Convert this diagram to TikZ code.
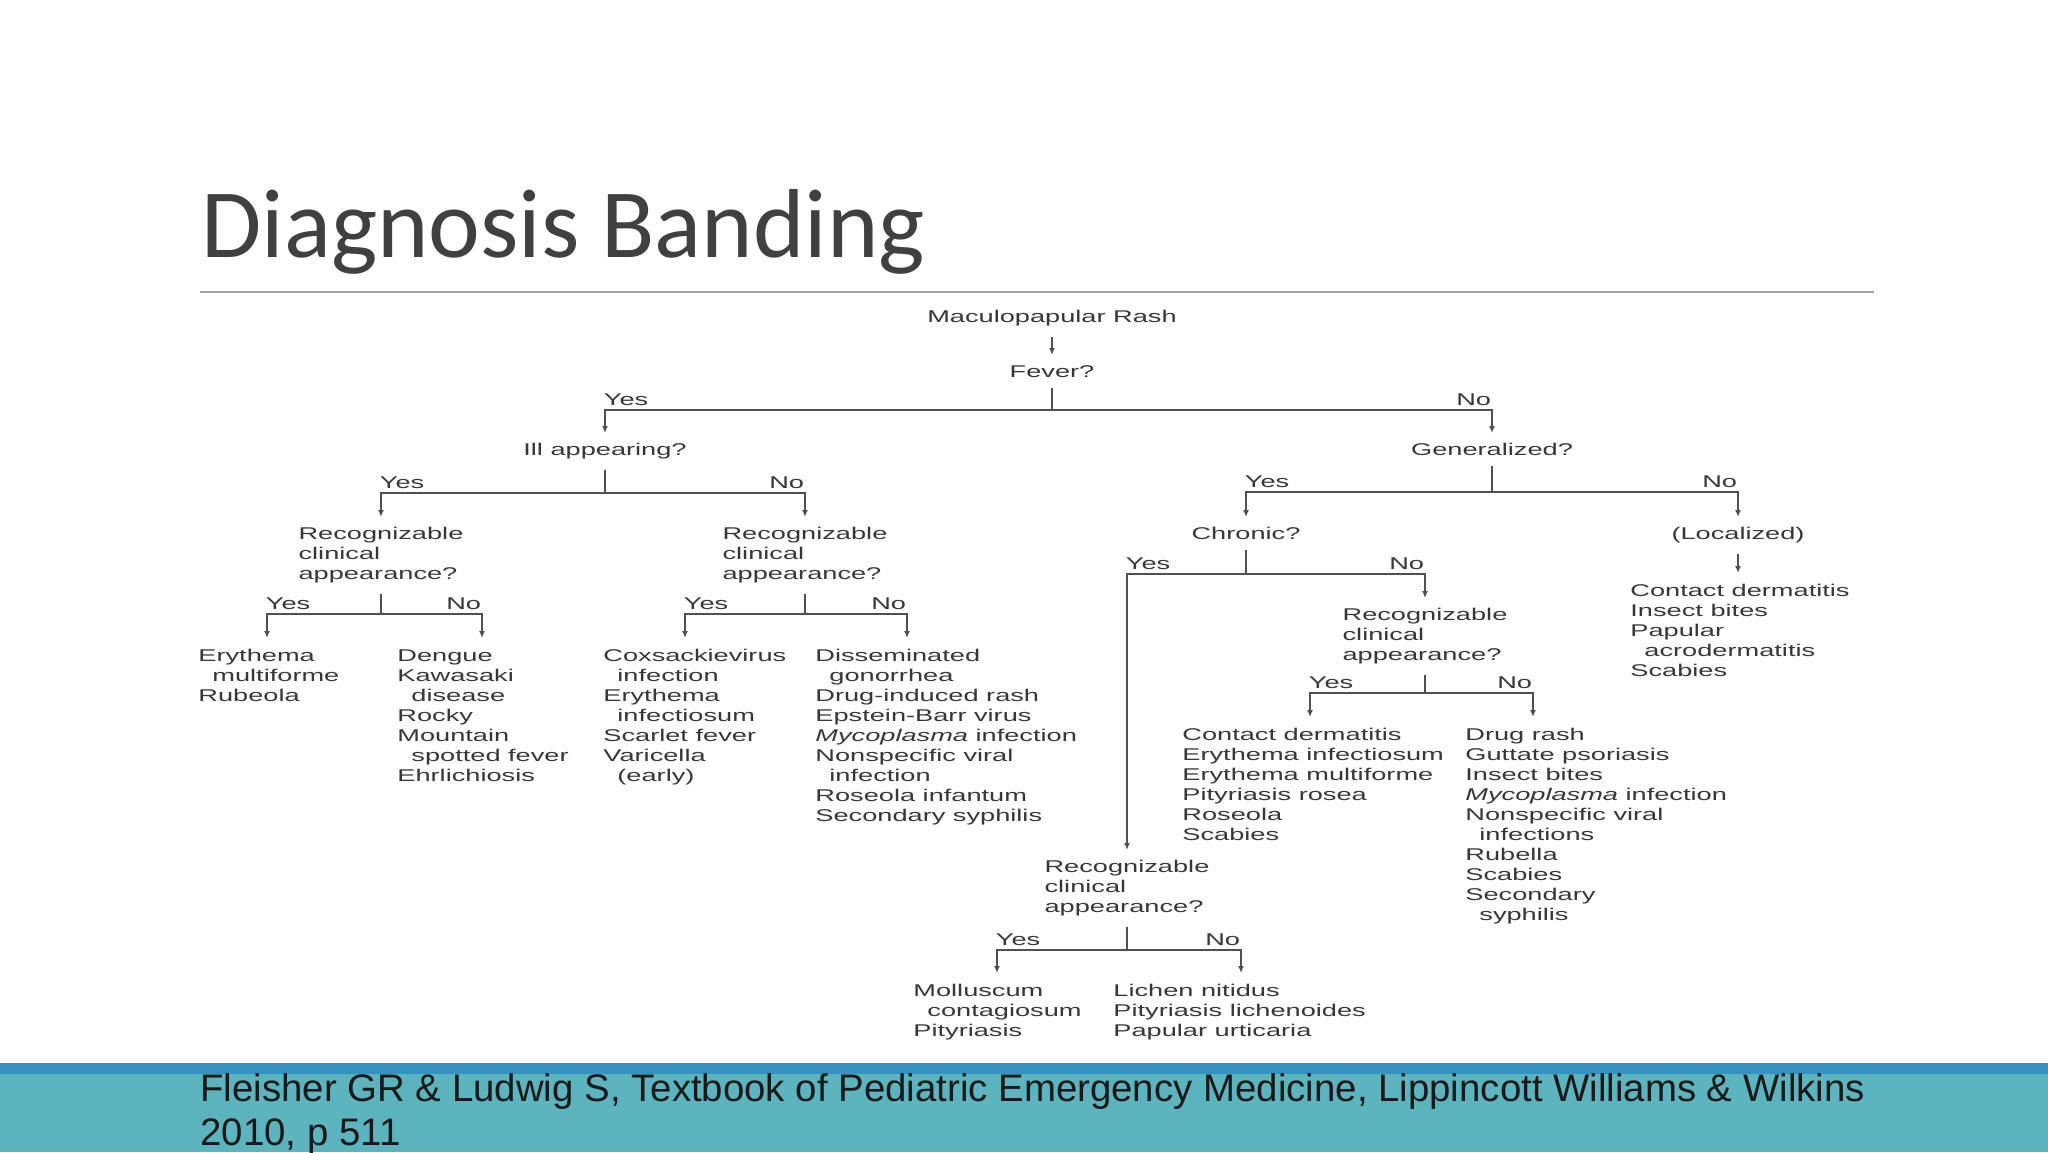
\documentclass[tikz,border=0pt]{standalone}
\usepackage{fontspec}
\usetikzlibrary{calc, positioning}
\usetikzlibrary{arrows.meta}

\newfontfamily\titlefont{Carlito}
\newfontfamily\chartfont[FakeStretch=1.6]{Liberation Sans}
\newfontfamily\footfont{Liberation Sans}

\definecolor{titlegray}{RGB}{64,64,64}
\definecolor{rulegray}{RGB}{165,165,165}
\definecolor{chartink}{RGB}{55,55,55}
\definecolor{chartline}{RGB}{80,80,80}
\definecolor{stripeblue}{RGB}{52,146,190}
\definecolor{bandteal}{RGB}{91,180,190}
\definecolor{footink}{RGB}{25,25,25}

\newcommand{\indnt}{\hspace*{7pt}}

\begin{document}
\begin{tikzpicture}[x=0.5pt, y=-0.5pt,
  box/.style={font=\chartfont\fontsize{8.5}{10}\selectfont, text=chartink,
    align=left, inner xsep=0pt, inner ysep=5pt, anchor=north},
  listbox/.style={box, anchor=north west, inner ysep=5.5pt},
  lbl/.style={font=\chartfont\fontsize{8.5}{10}\selectfont, text=chartink, inner sep=0pt},
  yeslbl/.style={lbl, pos=0, anchor=base west, xshift=-1pt, yshift=2.3pt},
  nolbl/.style={lbl, pos=0, anchor=base east, yshift=2.3pt},
  link/.style={draw=chartline, line width=0.9pt, -{Latex[length=3.5pt,width=3pt]}}]

\useasboundingbox (0,0) rectangle (2048,1152);
\fill[white] (0,0) rectangle (2048,1152);

\node[anchor=base west, font=\titlefont\fontsize{49}{58}\selectfont, text=titlegray, inner sep=0pt]
  (title) at (201,257) {Diagnosis Banding};
\draw[rulegray, line width=1pt] (200,292) -- (1874,292);

\coordinate (feverbar) at (0,410);
\coordinate (illbar) at (0,493);
\coordinate (genbar) at (0,492);
\coordinate (recAbar) at (0,614);
\coordinate (recBbar) at (0,614);
\coordinate (chronbar) at (0,574);
\coordinate (recCbar) at (0,693);
\coordinate (recDbar) at (0,950);

\node[box] (mac) at (1052,300) {Maculopapular Rash};
\node[box] (fever) at (1052,355) {Fever?};
\node[box] (ill) at (605,433) {Ill appearing?};
\node[box] (gen) at (1492,433) {Generalized?};
\node[box] (recA) at (381,517) {Recognizable\\clinical\\appearance?};
\node[box] (recB) at (805,517) {Recognizable\\clinical\\appearance?};
\node[box] (chron) at (1246,517) {Chronic?};
\node[box] (loc) at (1738,517) {(Localized)};
\node[box] (recC) at (1425,598) {Recognizable\\clinical\\appearance?};
\node[box] (recD) at (1127,850) {Recognizable\\clinical\\appearance?};

\node[listbox] (locList) at (1630,573) {Contact dermatitis\\Insect bites\\Papular\\\indnt acrodermatitis\\Scabies};
\node[listbox] (erythList) at (198,638) {Erythema\\\indnt multiforme\\Rubeola};
\node[listbox] (dengList) at (397,638) {Dengue\\Kawasaki\\\indnt disease\\Rocky\\Mountain\\\indnt spotted fever\\Ehrlichiosis};
\node[listbox] (coxList) at (603,638) {Coxsackievirus\\\indnt infection\\Erythema\\\indnt infectiosum\\Scarlet fever\\Varicella\\\indnt (early)};
\node[listbox] (dissList) at (815,638) {Disseminated\\\indnt gonorrhea\\Drug-induced rash\\Epstein-Barr virus\\\textit{Mycoplasma} infection\\Nonspecific viral\\\indnt infection\\Roseola infantum\\Secondary syphilis};
\node[listbox] (contList) at (1182,717) {Contact dermatitis\\Erythema infectiosum\\Erythema multiforme\\Pityriasis rosea\\Roseola\\Scabies};
\node[listbox] (drugList) at (1465,717) {Drug rash\\Guttate psoriasis\\Insect bites\\\textit{Mycoplasma} infection\\Nonspecific viral\\\indnt infections\\Rubella\\Scabies\\Secondary\\\indnt syphilis};
\node[listbox] (mollList) at (913,973) {Molluscum\\\indnt contagiosum\\Pityriasis};
\node[listbox] (lichList) at (1113,973) {Lichen nitidus\\Pityriasis lichenoides\\Papular urticaria};

\coordinate (locIn) at ($(locList.north west)+(108,0)$);
\coordinate (erythIn) at ($(erythList.north west)+(69,0)$);
\coordinate (dengIn) at ($(dengList.north west)+(85,0)$);
\coordinate (coxIn) at ($(coxList.north west)+(82,0)$);
\coordinate (dissIn) at ($(dissList.north west)+(92,0)$);
\coordinate (contIn) at ($(contList.north west)+(128,0)$);
\coordinate (drugIn) at ($(drugList.north west)+(68,0)$);
\coordinate (mollIn) at ($(mollList.north west)+(84,0)$);
\coordinate (lichIn) at ($(lichList.north west)+(128,0)$);

\draw[link] (mac.south) -- (fever.north);
\draw[link] (fever.south) |- (ill.north |- feverbar) -- node[yeslbl] (feverYes) {Yes} (ill.north);
\draw[link] (fever.south) |- (gen.north |- feverbar) -- node[nolbl] (feverNo) {No} (gen.north);

\draw[link] (ill.south) |- (recA.north |- illbar) -- node[yeslbl] (illYes) {Yes} (recA.north);
\draw[link] (ill.south) |- (recB.north |- illbar) -- node[nolbl] (illNo) {No} (recB.north);
\draw[link] (gen.south) |- (chron.north |- genbar) -- node[yeslbl] (genYes) {Yes} (chron.north);
\draw[link] (gen.south) |- (loc.north |- genbar) -- node[nolbl] (genNo) {No} (loc.north);
\draw[link] (loc.south) -- (locIn);

\draw[link] (recA.south) |- (erythIn |- recAbar) -- node[yeslbl] (recAYes) {Yes} (erythIn);
\draw[link] (recA.south) |- (dengIn |- recAbar) -- node[nolbl] (recANo) {No} (dengIn);
\draw[link] (recB.south) |- (coxIn |- recBbar) -- node[yeslbl] (recBYes) {Yes} (coxIn);
\draw[link] (recB.south) |- (dissIn |- recBbar) -- node[nolbl] (recBNo) {No} (dissIn);

\draw[link] (chron.south) |- (recD.north |- chronbar) -- node[yeslbl] (chronYes) {Yes} (recD.north);
\draw[link] (chron.south) |- (recC.north |- chronbar) -- node[nolbl] (chronNo) {No} (recC.north);
\draw[link] (recC.south) |- (contIn |- recCbar) -- node[yeslbl] (recCYes) {Yes} (contIn);
\draw[link] (recC.south) |- (drugIn |- recCbar) -- node[nolbl] (recCNo) {No} (drugIn);
\draw[link] (recD.south) |- (mollIn |- recDbar) -- node[yeslbl] (recDYes) {Yes} (mollIn);
\draw[link] (recD.south) |- (lichIn |- recDbar) -- node[nolbl] (recDNo) {No} (lichIn);

\fill[stripeblue] (0,1063) rectangle (2048,1074);
\fill[bandteal] (0,1074) rectangle (2048,1152);
\node[anchor=north west, align=left, inner sep=0pt, text=footink,
  font=\footfont\fontsize{19.2}{22}\selectfont] (cite) at (200,1073)
  {Fleisher GR \& Ludwig S, Textbook of Pediatric Emergency Medicine, Lippincott Williams \& Wilkins\\2010, p 511};
\end{tikzpicture}
\end{document}
